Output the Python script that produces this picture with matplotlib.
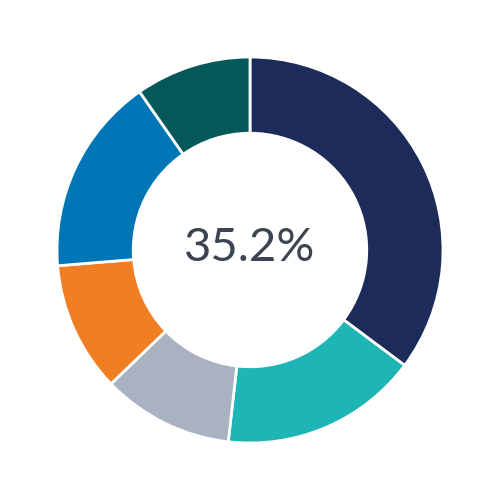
import matplotlib
matplotlib.use("Agg")
import matplotlib.pyplot as plt

# segment shares, clockwise from 12 o'clock
labels = ["Navy", "Teal", "Gray", "Orange", "Blue", "Green"]
shares = [35.2, 16.6, 11.0, 10.9, 16.6, 9.7]
colors = ["#1d2b5b", "#1db5b5", "#a8b2c1", "#f07e22", "#0076b6", "#04585a"]
center_label = "35.2%"

fig = plt.figure(figsize=(5, 5), dpi=100)
ax = fig.add_axes([0, 0, 1, 1])

ax.pie(shares, colors=colors, startangle=90, counterclock=False, radius=1.0,
       wedgeprops=dict(width=0.395, edgecolor="white", linewidth=2.0))

ax.text(0, 0.01, center_label, ha="center", va="center", fontsize=34,
        family=["Lato", "DejaVu Sans"], fontweight="normal", color="#3d4451")

lim = 250 / 193
ax.set_xlim(-lim, lim)
ax.set_ylim(-lim, lim)
ax.set_aspect("equal")
ax.axis("off")

plt.savefig("out.png", dpi=100, facecolor="white")
plt.close()
